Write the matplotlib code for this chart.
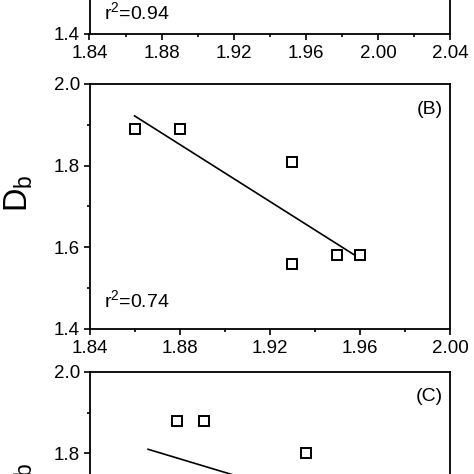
"""Db vs D scatter panels (A)-(C) with linear fits, cropped view."""

import numpy as np
import matplotlib
matplotlib.use('Agg')
import matplotlib.pyplot as plt
from matplotlib.ticker import MultipleLocator, FixedLocator

plt.rcParams['font.family'] = ['Liberation Sans', 'DejaVu Sans']
plt.rcParams['mathtext.default'] = 'regular'

# --- Data ---
# panel A: only the bottom strip is visible, no points in view
a_r2 = '0.94'

# panel B
b_x = [1.86, 1.88, 1.93, 1.93, 1.95, 1.96]
b_y = [1.89, 1.89, 1.81, 1.56, 1.58, 1.58]
b_r2 = '0.74'

# panel C: only the top strip is visible
c_x = [1.879, 1.891, 1.936]
c_y = [1.88, 1.88, 1.80]
c_fit_x = [1.866, 1.99]
c_fit_y = [1.810, 1.604]

y_lim = (1.4, 2.0)
xlim_a = (1.84, 2.04)
xlim_bc = (1.84, 2.00)

W = H = 474
left, width = 89.5 / W, 360.5 / W
height = 245 / H


def style_axes(ax, xlim, ylabel=True):
    ax.set_xlim(*xlim)
    ax.set_ylim(*y_lim)
    ax.xaxis.set_major_locator(MultipleLocator(0.04))
    ax.xaxis.set_minor_locator(MultipleLocator(0.02))
    ax.yaxis.set_major_locator(MultipleLocator(0.2))
    ax.yaxis.set_minor_locator(MultipleLocator(0.1))
    ax.xaxis.set_major_formatter(plt.FuncFormatter(lambda v, p: f'{v:.2f}'))
    ax.yaxis.set_major_formatter(plt.FuncFormatter(lambda v, p: f'{v:.1f}'))
    ax.tick_params(which='both', direction='out', top=False, right=False,
                   width=1.2, labelsize=13.5)
    ax.tick_params(axis='y', which='major', length=4, pad=3)
    ax.tick_params(axis='x', which='major', length=4, pad=4)
    ax.tick_params(which='minor', length=2.5)
    for s in ax.spines.values():
        s.set_linewidth(1.3)
    if ylabel:
        ax.text(-0.196, 0.553, 'D$_b$', transform=ax.transAxes, rotation=90,
                ha='center', va='center', fontsize=23.5)


def scatter(ax, x, y):
    ax.plot(x, y, 's', markersize=6.8, markerfacecolor='white',
            markeredgecolor='black', markeredgewidth=1.4, zorder=3)


fig = plt.figure(figsize=(W / 100, H / 100), dpi=100)
fig.patch.set_facecolor('white')

# (A) bottom strip only; its upper labels fall outside the crop
ax_a = fig.add_axes([left, 1 - 34 / H, width, height])
style_axes(ax_a, xlim_a, ylabel=False)
ax_a.yaxis.set_major_locator(FixedLocator([1.4]))
ax_a.text(0.040, 0.061, f'r$^2$={a_r2}', transform=ax_a.transAxes,
          ha='left', va='baseline', fontsize=14)

# (B) full panel
ax_b = fig.add_axes([left, 1 - 329 / H, width, height])
style_axes(ax_b, xlim_bc)
slope, icpt = np.polyfit(b_x, b_y, 1)
fx = np.array([min(b_x), max(b_x)])
ax_b.plot(fx, slope * fx + icpt, color='black', linewidth=1.2, zorder=2)
scatter(ax_b, b_x, b_y)
ax_b.text(0.040, 0.088, f'r$^2$={b_r2}', transform=ax_b.transAxes,
          ha='left', va='baseline', fontsize=14)
ax_b.text(0.981, 0.876, '(B)', transform=ax_b.transAxes,
          ha='right', va='baseline', fontsize=14)

# (C) top strip only; x labels fall below the crop
ax_c = fig.add_axes([left, 1 - 616.7 / H, width, height])
style_axes(ax_c, xlim_bc)
ax_c.tick_params(axis='x', labelbottom=False)
ax_c.yaxis.set_major_locator(FixedLocator([1.8, 2.0]))
ax_c.plot(c_fit_x, c_fit_y, color='black', linewidth=1.2, zorder=2)
scatter(ax_c, c_x, c_y)
ax_c.text(0.981, 0.879, '(C)', transform=ax_c.transAxes,
          ha='right', va='baseline', fontsize=14)

fig.savefig('out.png', dpi=100)
plt.close(fig)
